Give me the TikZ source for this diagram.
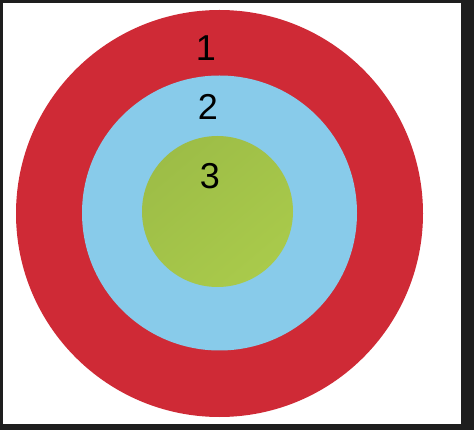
\documentclass[tikz,border=0pt]{standalone}
\usepackage{fontspec}
\setmainfont{Liberation Sans}
\usepackage{tikz}
\usetikzlibrary{positioning}
\definecolor{framegray}{HTML}{1E1E1E}
\definecolor{targetred}{HTML}{CF2A36}
\definecolor{targetblue}{HTML}{88CBEA}
\definecolor{greendark}{HTML}{9DBD47}
\definecolor{greenlight}{HTML}{A9CA4B}
\tikzset{
    ring/.style={circle,draw=none,inner sep=0pt,outer sep=0pt},
    num/.style={rectangle,draw=none,inner sep=0pt,font=\fontsize{36}{40}\selectfont},
}

\begin{document}
\begin{tikzpicture}[x=1pt,y=-1pt]
		\fill[framegray] (0,0) rectangle (474,430);
		\fill[white] (3,3) rectangle (461,424);
	
		\node[ring,fill=targetred,minimum size=407pt] (outer) at (219.5,213.5) {};
		\node[ring,fill=targetblue,minimum size=275pt] (middle) at (219.5,213) {};
		\node[ring,top color=greendark,bottom color=greenlight,shading angle=40,minimum size=151pt] (inner) at (217.5,211.5) {};
	
		\node[num] (one) at (206,48) {1};
		\node[num] (two) at (208,107) {2};
		\node[num] (three) at (210,176) {3};
	\end{tikzpicture}
\end{document}
